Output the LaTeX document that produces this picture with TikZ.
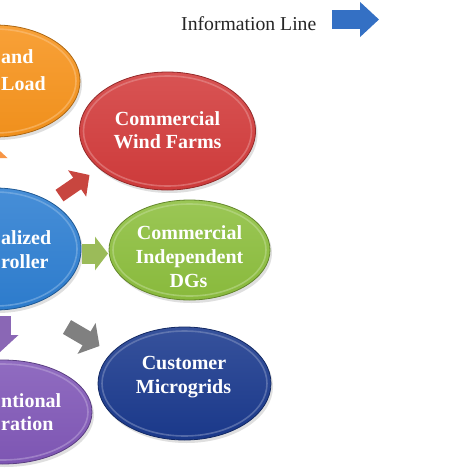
\documentclass[tikz,border=0pt]{standalone}
\usepackage{fontspec}
\setmainfont{Liberation Serif}
\usetikzlibrary{shapes.geometric,arrows.meta,shadows,calc}
\definecolor{corange}{HTML}{F7941D}
\definecolor{cred}{HTML}{D33C3C}
\definecolor{cblue}{HTML}{2E7FD2}
\definecolor{cgreen}{HTML}{8DBF3E}
\definecolor{cnavy}{HTML}{1B3A8E}
\definecolor{cpurple}{HTML}{8158B8}
\definecolor{ared}{HTML}{C8463F}
\definecolor{agreen}{HTML}{9BBB59}
\definecolor{agray}{HTML}{808080}
\definecolor{apurple}{HTML}{8A67B5}
\definecolor{aorange}{HTML}{F79646}
\definecolor{ablue}{HTML}{3470C4}
\tikzset{
  bubble/.style={ellipse, inner sep=0pt, draw=#1!70!black, line width=0.8pt,
    top color=#1!88!white, bottom color=#1!97!black,
    drop shadow={opacity=0.25, shadow xshift=2pt, shadow yshift=-3pt}},
  rim/.style={draw=#1!55!white, line width=1.6pt, opacity=0.55},
  blk/.style n args={3}{line width=#1, -{Triangle[width=#2, length=#3]}},
  lbl/.style={text=white, inner sep=0pt, font=\bfseries\fontsize{20}{24}\selectfont},
  legtxt/.style={text=black!85, inner sep=0pt, font=\fontsize{19.7}{24}\selectfont}
}
\begin{document}
\begin{tikzpicture}[x=1pt,y=-1pt]
\useasboundingbox (0,0) rectangle (474,474);
\clip (0,0) rectangle (474,474);
\fill[white] (0,0) rectangle (474,474);

% ellipses
\node[bubble=corange, minimum width=170pt, minimum height=112pt] (load) at (-5,81) {};
\draw[rim=corange] (load.center) ellipse [x radius=81pt, y radius=52pt];
\node[bubble=cred, minimum width=176pt, minimum height=118pt] (wind) at (167.5,131) {};
\draw[rim=cred] (wind.center) ellipse [x radius=84pt, y radius=55pt];
\node[bubble=cblue, minimum width=171pt, minimum height=122pt] (ctrl) at (-4.5,249) {};
\draw[rim=cblue] (ctrl.center) ellipse [x radius=81.5pt, y radius=57pt];
\node[bubble=cgreen, minimum width=161pt, minimum height=100pt] (dgs) at (189.5,250) {};
\draw[rim=cgreen] (dgs.center) ellipse [x radius=76.5pt, y radius=46pt];
\node[bubble=cnavy, minimum width=173pt, minimum height=113pt] (mg) at (184.5,383.5) {};
\draw[rim=cnavy] (mg.center) ellipse [x radius=82.5pt, y radius=52.5pt];
\node[bubble=cpurple, minimum width=179pt, minimum height=104pt] (conv) at (2.5,412) {};
\draw[rim=cpurple] (conv.center) ellipse [x radius=85.5pt, y radius=48pt];

% block arrows
\coordinate (oa1) at (-12,177); \coordinate (oa2) at (-12,140);
\draw[blk={24pt}{38pt}{18pt}, aorange] (oa1) -- (oa2);
\coordinate (ra1) at (59.5,195.6); \coordinate (ra2) at (89.5,175);
\draw[blk={14pt}{31pt}{15pt}, ared] (ra1) -- (ra2);
\coordinate (ga1) at (82,253.5); \coordinate (ga2) at (108,253.5);
\draw[blk={20pt}{33pt}{13pt}, agreen] (ga1) -- (ga2);
\coordinate (ya1) at (67,327); \coordinate (ya2) at (99.5,346);
\draw[blk={16pt}{35pt}{15pt}, agray] (ya1) -- (ya2);
\coordinate (pa1) at (-1,316); \coordinate (pa2) at (-1,353);
\draw[blk={24pt}{38pt}{18pt}, apurple] (pa1) -- (pa2);

% legend
\node[legtxt, anchor=base west] (legend) at (181,30.5) {Information Line};
\coordinate (la1) at (332,19.5); \coordinate (la2) at (379,19.5);
\draw[blk={19pt}{34pt}{19pt}, ablue] (la1) -- (la2);

% labels
\node[lbl, anchor=base west] (loadA) at (1,63) {and};
\node[lbl, anchor=base west] (loadB) at (1,90) {Load};
\node[lbl, anchor=base] (windA) at (167.5,125) {Commercial};
\node[lbl, anchor=base] (windB) at (167.5,148) {Wind Farms};
\node[lbl, anchor=base west] (ctrlA) at (1,244) {alized};
\node[lbl, anchor=base west] (ctrlB) at (1,268) {roller};
\node[lbl, anchor=base] (dgsA) at (189.5,239) {Commercial};
\node[lbl, anchor=base] (dgsB) at (189.5,263) {Independent};
\node[lbl, anchor=base] (dgsC) at (188.5,287) {DGs};
\node[lbl, anchor=base] (mgA) at (184,369) {Customer};
\node[lbl, anchor=base] (mgB) at (183.5,393) {Microgrids};
\node[lbl, anchor=base west] (convA) at (1,407) {ntional};
\node[lbl, anchor=base west] (convB) at (1,430) {ration};
\end{tikzpicture}
\end{document}
